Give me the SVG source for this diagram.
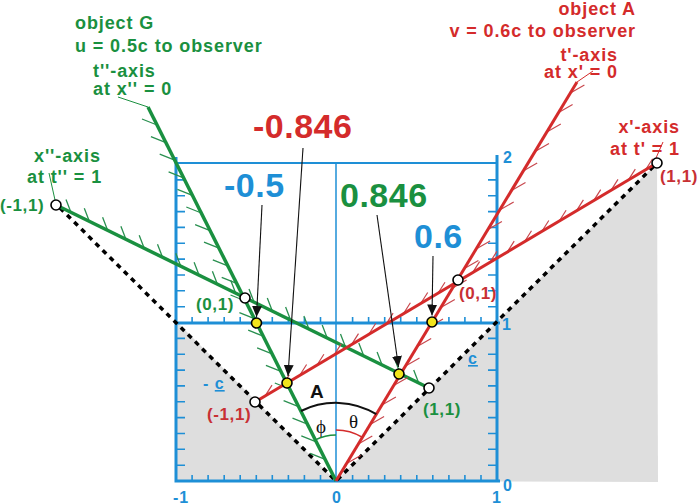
<svg xmlns="http://www.w3.org/2000/svg" width="700" height="504" viewBox="0 0 700 504">
<defs>
<style>
text{font-family:"Liberation Sans",Arial,sans-serif;font-weight:bold}
.g{fill:#1a9040}.r{fill:#d42b2b}.b{fill:#1e8fd6}.k{fill:#111}
.s18{font-size:18px;letter-spacing:0.9px}
.s16{font-size:16px;letter-spacing:1px}
.s17{font-size:17px;letter-spacing:0.6px}
.big{font-size:34px;letter-spacing:0.5px}
.frame{fill:none;stroke:#1e8fd6;stroke-width:3}
.tick{fill:none;stroke:#1e8fd6;stroke-width:1.6}
.cone{fill:none;stroke:#000;stroke-width:3.5;stroke-dasharray:5 5}
.gax{fill:none;stroke:#1a9040;stroke-width:3.5}
.rax{fill:none;stroke:#d42b2b;stroke-width:3}
.gh{fill:none;stroke:#2a9050;stroke-width:1.3}
.rh{fill:none;stroke:#c8484e;stroke-width:1.2}
.arw{fill:none;stroke:#111;stroke-width:1.1;marker-end:url(#ah)}
.wm{fill:#fff;stroke:#000;stroke-width:1.6}
.ym{fill:#f2e41c;stroke:#000;stroke-width:1.6}
.serif{font-family:"Liberation Serif","Times New Roman",serif;font-weight:normal;font-size:19px}
</style>
<marker id="ah" markerWidth="11" markerHeight="10" refX="11" refY="5" orient="auto" markerUnits="userSpaceOnUse">
<path d="M0,0 L11,5 L0,10 z" fill="#111"/>
</marker>
</defs>

<g id="shading" fill="#dedede">
<polygon points="176,321 336,481 176,481"/>
<polygon points="336,481 657,163 658,482"/>
</g>

<g id="frame">
<path class="frame" d="M176,157V481H500M497,155V481M176,323H500"/>
<path fill="none" stroke="#1e8fd6" stroke-width="2" d="M176,163H497"/>
<path fill="none" stroke="#1e8fd6" stroke-width="1.5" d="M336,163V481"/>
<path class="tick" d="M176,465.2h9M176,449.3h9M176,433.5h9M176,417.6h9M176,401.8h9M176,385.9h9M176,370.1h9M176,354.2h9M176,338.4h9M176,306.7h9M176,290.8h9M176,275h9M176,259.1h9M176,243.3h9M176,227.4h9M176,211.6h9M176,195.7h9M176,179.9h9"/>
<path class="tick" d="M497,465.2h-9M497,449.3h-9M497,433.5h-9M497,417.6h-9M497,401.8h-9M497,385.9h-9M497,370.1h-9M497,354.2h-9M497,338.4h-9M497,306.7h-9M497,290.8h-9M497,275h-9M497,259.1h-9M497,243.3h-9M497,227.4h-9M497,211.6h-9M497,195.7h-9M497,179.9h-9"/>
<path class="tick" d="M192.1,481v-6M208.1,481v-6M224.2,481v-6M240.2,481v-6M256.3,481v-6M272.3,481v-6M288.4,481v-6M304.4,481v-6M320.5,481v-6M352.6,481v-6M368.6,481v-6M384.7,481v-6M400.7,481v-6M416.8,481v-6M432.8,481v-6M448.9,481v-6M464.9,481v-6M481,481v-6"/>
<path class="tick" d="M192.1,323v-6M208.1,323v-6M224.2,323v-6M240.2,323v-6M256.3,323v-6M272.3,323v-6M288.4,323v-6M304.4,323v-6M320.5,323v-6M352.6,323v-6M368.6,323v-6M384.7,323v-6M400.7,323v-6M416.8,323v-6M432.8,323v-6M448.9,323v-6M464.9,323v-6M481,323v-6"/>
<text class="b s16" x="503" y="163">2</text>
<text class="b s16" x="502" y="330">1</text>
<text class="b s16" x="503" y="491">0</text>
<text class="b s16" x="181" y="502.5" text-anchor="middle">-1</text>
<text class="b s16" x="337" y="502.5" text-anchor="middle">0</text>
<text class="b s16" x="497" y="502.5" text-anchor="middle">1</text>
<text class="b s16" x="203" y="389">- <tspan text-decoration="underline">c</tspan></text>
<text class="b s16" x="468" y="364" text-decoration="underline">c</text>
</g>

<g id="light-cone">
<path class="cone" d="M60,208 L336,481 L654,166"/>
</g>

<g id="frame-G">
<path class="gh" d="M157,125l-15,-6M165.9,142.6l-15,-6M174.7,160.2l-15,-6M183.6,177.8l-15,-6M192.4,195.4l-15,-6M201.3,213l-15,-6M210.1,230.6l-15,-6M219,248.2l-15,-6M227.8,265.8l-15,-6M236.7,283.4l-15,-6M245.5,301l-15,-6M254.4,318.6l-15,-6M263.2,336.2l-15,-6M272.1,353.8l-15,-6M280.9,371.4l-15,-6M289.8,389l-15,-6M298.6,406.6l-15,-6M307.5,424.2l-15,-6M316.3,441.8l-15,-6M325.2,459.4l-15,-6"/>
<path class="gh" d="M71,212.4l-5,-13M89.3,221.3l-5,-13M107.6,230.3l-5,-13M125.9,239.3l-5,-13M144.2,248.3l-5,-13M162.5,257.2l-5,-13M180.8,266.2l-5,-13M199.1,275.2l-5,-13M217.4,284.2l-5,-13M235.7,293.2l-5,-13M254,302.1l-5,-13M272.3,311.1l-5,-13M290.6,320.1l-5,-13M308.9,329.1l-5,-13M327.2,338l-5,-13M345.5,347l-5,-13M363.8,356l-5,-13M382.1,365l-5,-13M400.4,374l-5,-13M418.7,382.9l-5,-13"/>
<path class="gax" d="M148,107 L336,481"/>
<path class="gax" d="M56,205 L429,388"/>
<path fill="none" stroke="#1a9040" stroke-width="1" d="M118,97 L148,107M49,173 L55,200"/>
<text class="g s18" x="75" y="29">object G</text>
<text class="g s18" x="75" y="52">u = 0.5c to observer</text>
<text class="g s18" x="93" y="77">t''-axis</text>
<text class="g s18" x="93" y="95">at x'' = 0</text>
<text class="g s18" x="34" y="162">x''-axis</text>
<text class="g s18" x="27" y="183">at t'' = 1</text>
</g>

<g id="frame-A">
<path class="rh" d="M570.4,93l14,-8M558.6,112.5l14,-8M546.8,132l14,-8M535,151.5l14,-8M523.2,171l14,-8M511.5,190.5l14,-8M499.7,210l14,-8M487.9,229.5l14,-8M476.1,249l14,-8M464.4,268.5l14,-8M452.6,288l14,-8M440.8,307.5l14,-8M429,327l14,-8M417.2,346.5l14,-8M405.5,366l14,-8M393.7,385.5l14,-8M381.9,405l14,-8M370.1,424.5l14,-8M358.3,444l14,-8M346.6,463.5l14,-8"/>
<path class="rh" d="M265,396.1l7,-11M282.3,385.8l7,-11M299.6,375.5l7,-11M316.9,365.2l7,-11M334.2,354.9l7,-11M351.5,344.6l7,-11M368.8,334.3l7,-11M386.1,324.1l7,-11M403.4,313.8l7,-11M420.7,303.5l7,-11M438,293.2l7,-11M455.3,282.9l7,-11M472.6,272.6l7,-11M489.9,262.4l7,-11M507.2,252.1l7,-11M524.5,241.8l7,-11M541.8,231.5l7,-11M559.1,221.2l7,-11M576.4,210.9l7,-11M593.7,200.6l7,-11M611,190.4l7,-11M628.3,180.1l7,-11M645.6,169.8l7,-11"/>
<path class="rax" d="M336,481 L577,82"/>
<path class="rax" d="M255,402 L657,163"/>
<path fill="none" stroke="#d42b2b" stroke-width="1" d="M593,71 L577,82M663,142 L656,158"/>
<text class="r s18" x="636" y="15" text-anchor="end">object A</text>
<text class="r s18" x="636" y="37" text-anchor="end">v = 0.6c to observer</text>
<text class="r s18" x="618" y="61" text-anchor="end">t'-axis</text>
<text class="r s18" x="618" y="78" text-anchor="end">at x' = 0</text>
<text class="r s18" x="680" y="133" text-anchor="end">x'-axis</text>
<text class="r s18" x="680" y="155" text-anchor="end">at t' = 1</text>
</g>

<g id="angles">
<path fill="none" stroke="#111" stroke-width="2" d="M301,411 A78,78 0 0,1 376.3,414.2"/>
<path fill="none" stroke="#1a9040" stroke-width="1.6" d="M336,435 A46,46 0 0,0 315.3,439.9"/>
<path fill="none" stroke="#d42b2b" stroke-width="1.6" d="M336,430 A51,51 0 0,1 362.3,437.3"/>
<text class="k" x="310" y="398" font-size="19">A</text>
<text class="k serif" x="316" y="433">ϕ</text>
<text class="k serif" x="349" y="428">θ</text>
</g>

<g id="connectors">
<path class="arw" d="M262,205 L256.5,317"/>
<path class="arw" d="M303,148 L288,376"/>
<path class="arw" d="M377,215 L398.5,367"/>
<path class="arw" d="M433,256 L432,315.5"/>
</g>

<g id="points">
<circle class="wm" cx="56" cy="205" r="5"/>
<circle class="wm" cx="245" cy="298" r="5"/>
<circle class="wm" cx="429" cy="388" r="5"/>
<circle class="wm" cx="255" cy="402" r="5"/>
<circle class="wm" cx="458" cy="280" r="5"/>
<circle class="wm" cx="657" cy="163" r="5"/>
<circle class="ym" cx="256.5" cy="323" r="5"/>
<circle class="ym" cx="287" cy="383" r="5"/>
<circle class="ym" cx="399" cy="374" r="5"/>
<circle class="ym" cx="432" cy="322" r="5"/>
</g>

<g id="point-labels">
<text class="g s17" x="0" y="211">(-1,1)</text>
<text class="g s17" x="196" y="310">(0,1)</text>
<text class="g s17" x="423" y="415">(1,1)</text>
<text class="s17" fill="#c83034" x="207" y="420">(-1,1)</text>
<text class="s17" fill="#c83034" x="459" y="299">(0,1)</text>
<text class="s17" fill="#c83034" x="660" y="182">(1,1)</text>
</g>

<g id="values">
<text class="r big" x="253" y="138">-0.846</text>
<text class="b big" x="224" y="197">-0.5</text>
<text class="g big" x="340" y="207">0.846</text>
<text class="b big" x="414" y="248">0.6</text>
</g>
</svg>
